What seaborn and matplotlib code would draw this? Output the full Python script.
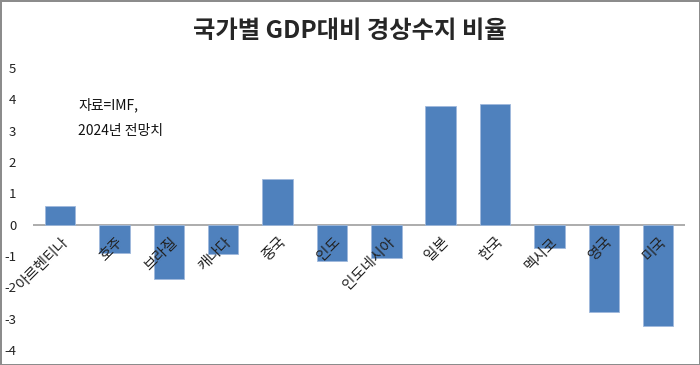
import pandas as pd
import seaborn as sns
import matplotlib
matplotlib.use('Agg')
import matplotlib.pyplot as plt

# data
countries = ['아르헨티나', '호주', '브라질', '캐나다', '중국', '인도',
             '인도네시아', '일본', '한국', '멕시코', '영국', '미국']
ratio = [0.6, -0.9, -1.75, -0.95, 1.45, -1.15, -1.05, 3.8, 3.85, -0.75, -2.8, -3.25]
y_ticks = [-4, -3, -2, -1, 0, 1, 2, 3, 4, 5]

df = pd.DataFrame({'country': countries, 'ratio': ratio})

sns.set_style('white')
plt.rcParams['font.family'] = ['Noto Sans CJK KR', 'DejaVu Sans']

fig = plt.figure(figsize=(7, 3.65), dpi=100, edgecolor='#8c8c8c', linewidth=2)
ax = fig.add_axes([0.047, 0.019, 0.932, 0.817])

sns.barplot(data=df, x='country', y='ratio', color='#4F81BD', width=0.56,
            saturation=1, edgecolor='#9fb9dc', linewidth=0.6, ax=ax)

ax.set_ylim(-4.26, 5.26)
ax.set_xlim(-0.5, len(countries) - 0.5)
ax.set_yticks(y_ticks)
ax.set_yticklabels([str(t) for t in y_ticks], fontsize=9.5, color='#222222')
ax.tick_params(axis='y', length=0, pad=12)
ax.set_xticks([])
ax.set_xlabel('')
ax.set_ylabel('')
for s in ax.spines.values():
    s.set_visible(False)
ax.axhline(0, color='#a6a6a6', linewidth=1.3, zorder=0.5)

# category labels hang just under the zero line, rotated 45 degrees
for i, name in enumerate(countries):
    ax.text(i + 0.02, -0.33, name, rotation=45, ha='right', va='top',
            rotation_mode='anchor', fontsize=10.5, color='#222222', zorder=5)

ax.text(0.33, 3.83, '자료=IMF,', va='center', fontsize=10, color='#111111')
ax.text(0.33, 3.0, '2024년 전망치', va='center', fontsize=10, color='#111111')

fig.suptitle('국가별 GDP대비 경상수지 비율', fontsize=17.5, fontweight='bold', y=0.949)

plt.savefig('out.png', dpi=100)
plt.close()
